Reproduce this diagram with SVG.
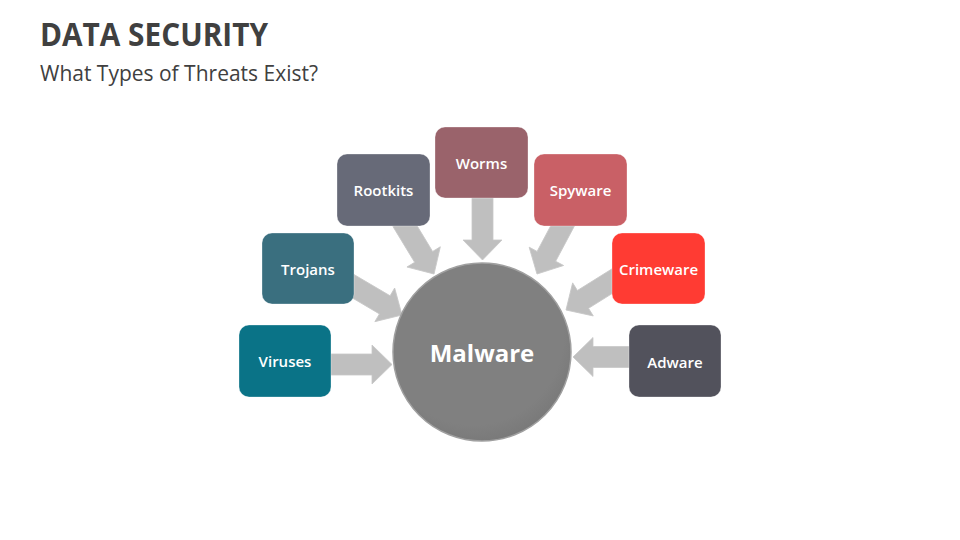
<svg xmlns="http://www.w3.org/2000/svg" width="960" height="540" viewBox="0 0 960 540">
  <style>
    .title { font-family: "Open Sans", "Liberation Sans", sans-serif; font-weight: 700; fill: #404040; }
    .sub { font-family: "Open Sans", "Liberation Sans", sans-serif; font-weight: 400; fill: #404040; }
    .lbl { font-family: "Open Sans", "Liberation Sans", sans-serif; font-weight: 600; font-size: 15px; fill: #ffffff; text-anchor: middle; dominant-baseline: central; }
    .big { font-family: "Open Sans", "Liberation Sans", sans-serif; font-weight: 700; font-size: 24px; fill: #ffffff; text-anchor: middle; dominant-baseline: central; }
    .arrow { fill: #BFBFBF; stroke: #C8C8C8; stroke-width: 0.8; }
    .box { stroke: rgba(255,255,255,0.3); stroke-width: 1; }
  </style>
  <defs>
    <path id="arr" d="M0,0 L-20,-19.5 L-20,-10.5 L-62,-10.5 L-62,10.5 L-20,10.5 L-20,19.5 Z"/>
    <radialGradient id="circ" cx="0.45" cy="0.4" r="0.6">
      <stop offset="0.85" stop-color="#808080"/>
      <stop offset="1" stop-color="#7a7a7a"/>
    </radialGradient>
  </defs>

  <text class="title" x="40" y="46" font-size="32" textLength="228" lengthAdjust="spacingAndGlyphs">DATA SECURITY</text>
  <text class="sub" x="40" y="81" font-size="21" textLength="278" lengthAdjust="spacingAndGlyphs">What Types of Threats Exist?</text>

  <g id="connectors">
    <use href="#arr" class="arrow" transform="translate(392,364.5)"/>
    <use href="#arr" class="arrow" transform="translate(402,315) rotate(30.5)"/>
    <use href="#arr" class="arrow" transform="translate(434,274) rotate(58.8)"/>
    <use href="#arr" class="arrow" transform="translate(482.5,260) rotate(90)"/>
    <use href="#arr" class="arrow" transform="translate(537,274) rotate(118)"/>
    <use href="#arr" class="arrow" transform="translate(566,310) rotate(148)"/>
    <use href="#arr" class="arrow" transform="translate(573,357) rotate(180)"/>
  </g>

  <g id="malware">
    <circle cx="482" cy="352" r="89" fill="url(#circ)" stroke="#A0A0A0" stroke-width="1.5"/>
    <text class="big" x="482" y="352">Malware</text>
  </g>

  <g id="viruses">
    <rect class="box" x="239" y="325" width="92" height="72" rx="10" fill="#0A7387"/>
    <text class="lbl" x="285" y="361">Viruses</text>
  </g>
  <g id="trojans">
    <rect class="box" x="262" y="233" width="92" height="71" rx="10" fill="#3A6F7F"/>
    <text class="lbl" x="308" y="269">Trojans</text>
  </g>
  <g id="rootkits">
    <rect class="box" x="337" y="154" width="93" height="72" rx="10" fill="#676A78"/>
    <text class="lbl" x="383.5" y="190">Rootkits</text>
  </g>
  <g id="worms">
    <rect class="box" x="435" y="127" width="93" height="71" rx="10" fill="#9A636B"/>
    <text class="lbl" x="481.5" y="162.5">Worms</text>
  </g>
  <g id="spyware">
    <rect class="box" x="534" y="154" width="93" height="72" rx="10" fill="#C96066"/>
    <text class="lbl" x="580.5" y="190">Spyware</text>
  </g>
  <g id="crimeware">
    <rect class="box" x="612" y="233" width="93" height="71" rx="10" fill="#FF3B33"/>
    <text class="lbl" x="658.5" y="269">Crimeware</text>
  </g>
  <g id="adware">
    <rect class="box" x="629" y="325" width="92" height="72" rx="10" fill="#52525C"/>
    <text class="lbl" x="675" y="362">Adware</text>
  </g>
</svg>
